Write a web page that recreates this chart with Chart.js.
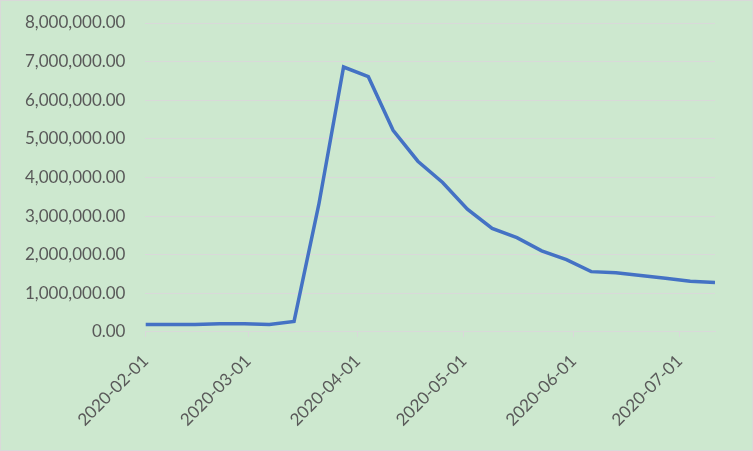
<!DOCTYPE html>
<html>
<head>
<meta charset="utf-8">
<script src="https://cdn.jsdelivr.net/npm/chart.js@4"></script>
<style>
  body { margin: 0; background: #fff; }
  #wrap { width: 753px; height: 451px; }
</style>
</head>
<body>
<div id="wrap"><canvas id="claims-chart" width="753" height="451"></canvas></div>
<script>
// Weekly values (week ending dates)
const weekEnding = [
  '2020-02-01', '2020-02-08', '2020-02-15', '2020-02-22', '2020-02-29',
  '2020-03-07', '2020-03-14', '2020-03-21', '2020-03-28', '2020-04-04',
  '2020-04-11', '2020-04-18', '2020-04-25', '2020-05-02', '2020-05-09',
  '2020-05-16', '2020-05-23', '2020-05-30', '2020-06-06', '2020-06-13',
  '2020-06-20', '2020-06-27', '2020-07-04', '2020-07-11',
];
const claims = [
  190000, 190000, 190000, 210000, 210000,
  190000, 270000, 3300000, 6860000, 6610000,
  5220000, 4420000, 3870000, 3180000, 2680000,
  2440000, 2100000, 1870000, 1560000, 1530000,
  1460000, 1390000, 1310000, 1280000,
];
// Axis ticks
const monthTicks = ['2020-02-01', '2020-03-01', '2020-04-01', '2020-05-01', '2020-06-01', '2020-07-01'];
const yTicks = [0, 1000000, 2000000, 3000000, 4000000, 5000000, 6000000, 7000000, 8000000];

const DAY = 86400000;
const toDay = (s) => Date.parse(s + 'T00:00:00Z') / DAY;
const fromDay = (d) => new Date(Math.round(d) * DAY).toISOString().slice(0, 10);

const points = weekEnding.map((d, i) => ({ x: toDay(d), y: claims[i] }));
const fmt = (v) => v.toLocaleString('en-US', { minimumFractionDigits: 2, maximumFractionDigits: 2 });

const bgPlugin = {
  id: 'bg',
  beforeDraw(c) {
    const { ctx, width, height } = c;
    ctx.save();
    ctx.fillStyle = '#cde8cf';
    ctx.fillRect(0, 0, width, height);
    ctx.strokeStyle = '#d9d9d9';
    ctx.lineWidth = 1;
    ctx.strokeRect(0.5, 0.5, width - 1, height - 1);
    ctx.restore();
  },
};

const ctx = document.getElementById('claims-chart');
// eslint-disable-next-line no-unused-vars
const chart = new Chart(ctx, {
  type: 'line',
  data: {
    datasets: [{
      label: 'Claims',
      data: points,
      borderColor: '#4472c4',
      borderWidth: 3.5,
      pointRadius: 0,
      tension: 0,
      fill: false,
    }],
  },
  options: {
    responsive: false,
    animation: false,
    layout: {
      padding: { left: 5, right: 38, top: 0, bottom: 7 },
    },
    plugins: {
      legend: { display: false },
      tooltip: { enabled: false },
    },
    scales: {
      x: {
        type: 'linear',
        min: toDay(weekEnding[0]),
        max: toDay(weekEnding[weekEnding.length - 1]),
        afterBuildTicks(axis) {
          axis.ticks = monthTicks.map((m) => ({ value: toDay(m) }));
        },
        grid: {
          drawOnChartArea: false,
          drawTicks: true,
          tickLength: 5,
          color: '#d9d9d9',
        },
        border: { display: true, color: '#d9d9d9' },
        ticks: {
          autoSkip: false,
          maxRotation: 45,
          minRotation: 45,
          padding: 14,
          color: '#595959',
          font: { family: 'Lato', size: 17 },
          callback: (v) => fromDay(v),
        },
      },
      y: {
        min: 0,
        max: 8000000,
        afterBuildTicks(axis) {
          axis.ticks = yTicks.map((v) => ({ value: v }));
        },
        afterFit(axis) {
          // tick padding is also added on top; keep only what the picture shows
          axis.paddingTop = 23;
        },
        grid: {
          color: '#d9d9d9',
          drawTicks: false,
        },
        border: { display: false },
        ticks: {
          padding: 20,
          color: '#595959',
          font: { family: 'Lato', size: 17 },
          callback: (v) => fmt(v),
        },
      },
    },
  },
  plugins: [bgPlugin],
});
</script>
</body>
</html>
